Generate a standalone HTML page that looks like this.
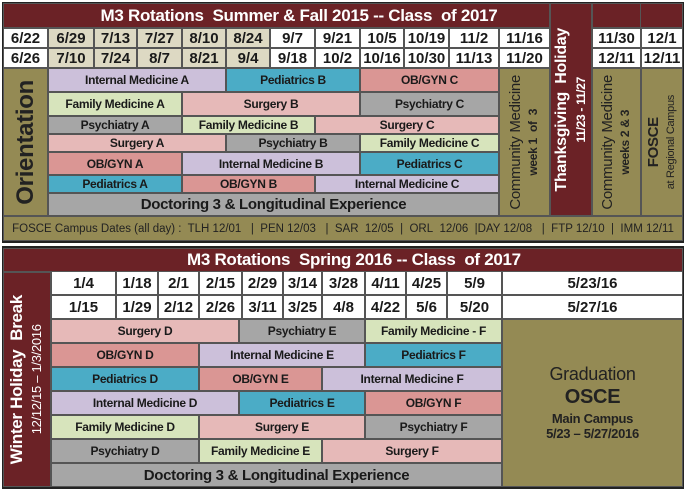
<!DOCTYPE html>
<html><head><meta charset="utf-8"><style>
body{margin:0;width:685px;height:490px;background:#fff;position:relative;overflow:hidden;font-family:"Liberation Sans",sans-serif;font-weight:bold;color:#1a1a1a}
.b{position:absolute;box-sizing:border-box;border:1px solid #555;display:flex;align-items:center;justify-content:center;text-align:center;white-space:nowrap;font-size:12px;letter-spacing:-0.3px}
.box{position:absolute;box-sizing:border-box;border:2px solid #222}
.M{background:#6b2226;color:#fff}.O{background:#948a54}.L{background:#ccc0da}.T{background:#4bacc6}.P{background:#e6b9b8}.G{background:#d7e4bc}.Y{background:#a6a6a6}.R{background:#da9694}.W{background:#fff}.K{background:#ddd9c3}
.d{font-size:15px;letter-spacing:0}
.v{writing-mode:vertical-rl;transform:rotate(180deg)}
</style></head><body>
<div class="box" style="left:2px;top:2px;width:682px;height:241px"></div>
<div class="box" style="left:2px;top:246px;width:682px;height:243px"></div>

<!-- TOP -->
<div class="b M" style="left:3px;top:3px;width:547px;height:25px;font-size:17px;padding-left:45px">M3 Rotations&nbsp; Summer &amp; Fall 2015 -- Class&nbsp; of 2017</div>
<div class="b M" style="left:592px;top:3px;width:91px;height:25px"></div>
<div class="b M" style="left:592px;top:3px;width:49px;height:25px"></div>

<div class="b W d" style="left:3px;top:28px;width:45px;height:20px">6/22</div>
<div class="b W d" style="left:3px;top:48px;width:45px;height:20px">6/26</div>
<div class="b K d" style="left:48px;top:28px;width:46px;height:20px">6/29</div>
<div class="b K d" style="left:48px;top:48px;width:46px;height:20px">7/10</div>
<div class="b K d" style="left:94px;top:28px;width:43px;height:20px">7/13</div>
<div class="b K d" style="left:94px;top:48px;width:43px;height:20px">7/24</div>
<div class="b K d" style="left:137px;top:28px;width:45px;height:20px">7/27</div>
<div class="b K d" style="left:137px;top:48px;width:45px;height:20px">8/7</div>
<div class="b K d" style="left:182px;top:28px;width:44px;height:20px">8/10</div>
<div class="b K d" style="left:182px;top:48px;width:44px;height:20px">8/21</div>
<div class="b K d" style="left:226px;top:28px;width:44px;height:20px">8/24</div>
<div class="b K d" style="left:226px;top:48px;width:44px;height:20px">9/4</div>
<div class="b W d" style="left:270px;top:28px;width:45px;height:20px">9/7</div>
<div class="b W d" style="left:270px;top:48px;width:45px;height:20px">9/18</div>
<div class="b W d" style="left:315px;top:28px;width:45px;height:20px">9/21</div>
<div class="b W d" style="left:315px;top:48px;width:45px;height:20px">10/2</div>
<div class="b W d" style="left:360px;top:28px;width:44px;height:20px">10/5</div>
<div class="b W d" style="left:360px;top:48px;width:44px;height:20px">10/16</div>
<div class="b W d" style="left:404px;top:28px;width:45px;height:20px">10/19</div>
<div class="b W d" style="left:404px;top:48px;width:45px;height:20px">10/30</div>
<div class="b W d" style="left:449px;top:28px;width:50px;height:20px">11/2</div>
<div class="b W d" style="left:449px;top:48px;width:50px;height:20px">11/13</div>
<div class="b W d" style="left:499px;top:28px;width:51px;height:20px">11/16</div>
<div class="b W d" style="left:499px;top:48px;width:51px;height:20px">11/20</div>
<div class="b W d" style="left:592px;top:28px;width:49px;height:20px">11/30</div>
<div class="b W d" style="left:592px;top:48px;width:49px;height:20px">12/11</div>
<div class="b W d" style="left:641px;top:28px;width:42px;height:20px">12/1</div>
<div class="b W d" style="left:641px;top:48px;width:42px;height:20px">12/11</div>

<div class="b O" style="left:3px;top:68px;width:45px;height:148px"><span class="v" style="font-size:24px;color:#222">Orientation</span></div>

<div class="b L" style="left:48px;top:68px;width:178px;height:24px">Internal Medicine A</div>
<div class="b T" style="left:226px;top:68px;width:134px;height:24px">Pediatrics B</div>
<div class="b R" style="left:360px;top:68px;width:139px;height:24px">OB/GYN C</div>

<div class="b G" style="left:48px;top:92px;width:134px;height:24px">Family Medicine A</div>
<div class="b P" style="left:182px;top:92px;width:178px;height:24px">Surgery B</div>
<div class="b Y" style="left:360px;top:92px;width:139px;height:24px">Psychiatry C</div>

<div class="b Y" style="left:48px;top:116px;width:134px;height:18px">Psychiatry A</div>
<div class="b G" style="left:182px;top:116px;width:133px;height:18px">Family Medicine B</div>
<div class="b P" style="left:315px;top:116px;width:184px;height:18px">Surgery C</div>

<div class="b P" style="left:48px;top:134px;width:178px;height:18px">Surgery A</div>
<div class="b Y" style="left:226px;top:134px;width:134px;height:18px">Psychiatry B</div>
<div class="b G" style="left:360px;top:134px;width:139px;height:18px">Family Medicine C</div>

<div class="b R" style="left:48px;top:152px;width:134px;height:23px">OB/GYN A</div>
<div class="b L" style="left:182px;top:152px;width:178px;height:23px">Internal Medicine B</div>
<div class="b T" style="left:360px;top:152px;width:139px;height:23px">Pediatrics C</div>

<div class="b T" style="left:48px;top:175px;width:134px;height:18px">Pediatrics A</div>
<div class="b R" style="left:182px;top:175px;width:133px;height:18px">OB/GYN B</div>
<div class="b L" style="left:315px;top:175px;width:184px;height:18px">Internal Medicine C</div>

<div class="b Y" style="left:48px;top:193px;width:451px;height:23px;font-size:15px">Doctoring 3 &amp; Longitudinal Experience</div>

<div class="b O" style="left:499px;top:68px;width:51px;height:148px;line-height:17px"><span class="v" style="font-size:15px;font-weight:normal;color:#222">Community Medicine<br><span style="font-size:12px;font-weight:bold">week 1&nbsp; of&nbsp; 3</span></span></div>
<div class="b M" style="left:550px;top:3px;width:42px;height:213px;line-height:19px"><span class="v" style="font-size:16px">Thanksgiving&nbsp; Holiday<br><span style="font-size:12px">11/23 - 11/27</span></span></div>
<div class="b O" style="left:592px;top:68px;width:49px;height:148px;line-height:17px"><span class="v" style="font-size:15px;font-weight:normal;color:#222">Community Medicine<br><span style="font-size:12px;font-weight:bold">weeks 2 &amp; 3</span></span></div>
<div class="b O" style="left:641px;top:68px;width:42px;height:148px;line-height:17px"><span class="v" style="font-size:15px;color:#222">FOSCE<br><span style="font-size:11px;font-weight:normal">at Regional Campus</span></span></div>

<div class="b O" style="left:3px;top:216px;width:680px;height:25px;font-size:11.5px;font-weight:normal;color:#222;letter-spacing:0">FOSCE Campus Dates (all day) :&nbsp; TLH 12/01&nbsp; &nbsp;|&nbsp; PEN 12/03&nbsp; &nbsp;|&nbsp; SAR&nbsp; 12/05&nbsp; |&nbsp; ORL&nbsp; 12/06&nbsp; |DAY 12/08&nbsp; &nbsp;|&nbsp; FTP 12/10&nbsp; |&nbsp; IMM 12/11</div>

<!-- BOTTOM -->
<div class="b M" style="left:3px;top:248px;width:680px;height:24px;font-size:17px;justify-content:flex-start;padding-left:183px">M3 Rotations&nbsp; Spring 2016 -- Class&nbsp; of 2017</div>
<div class="b M" style="left:3px;top:272px;width:48px;height:215px;line-height:20px"><span class="v" style="font-size:17px">Winter Holiday&nbsp; Break<br><span style="font-size:13px;font-weight:normal">12/12/15 – 1/3/2016</span></span></div>

<div class="b W d" style="left:51px;top:271px;width:65px;height:24px">1/4</div>
<div class="b W d" style="left:51px;top:295px;width:65px;height:24px">1/15</div>
<div class="b W d" style="left:116px;top:271px;width:42px;height:24px">1/18</div>
<div class="b W d" style="left:116px;top:295px;width:42px;height:24px">1/29</div>
<div class="b W d" style="left:158px;top:271px;width:41px;height:24px">2/1</div>
<div class="b W d" style="left:158px;top:295px;width:41px;height:24px">2/12</div>
<div class="b W d" style="left:199px;top:271px;width:43px;height:24px">2/15</div>
<div class="b W d" style="left:199px;top:295px;width:43px;height:24px">2/26</div>
<div class="b W d" style="left:242px;top:271px;width:41px;height:24px">2/29</div>
<div class="b W d" style="left:242px;top:295px;width:41px;height:24px">3/11</div>
<div class="b W d" style="left:283px;top:271px;width:39px;height:24px">3/14</div>
<div class="b W d" style="left:283px;top:295px;width:39px;height:24px">3/25</div>
<div class="b W d" style="left:322px;top:271px;width:43px;height:24px">3/28</div>
<div class="b W d" style="left:322px;top:295px;width:43px;height:24px">4/8</div>
<div class="b W d" style="left:365px;top:271px;width:41px;height:24px">4/11</div>
<div class="b W d" style="left:365px;top:295px;width:41px;height:24px">4/22</div>
<div class="b W d" style="left:406px;top:271px;width:41px;height:24px">4/25</div>
<div class="b W d" style="left:406px;top:295px;width:41px;height:24px">5/6</div>
<div class="b W d" style="left:447px;top:271px;width:55px;height:24px">5/9</div>
<div class="b W d" style="left:447px;top:295px;width:55px;height:24px">5/20</div>
<div class="b W d" style="left:502px;top:271px;width:181px;height:24px">5/23/16</div>
<div class="b W d" style="left:502px;top:295px;width:181px;height:24px">5/27/16</div>

<div class="b P" style="left:51px;top:319px;width:188px;height:24px">Surgery D</div>
<div class="b Y" style="left:239px;top:319px;width:126px;height:24px">Psychiatry E</div>
<div class="b G" style="left:365px;top:319px;width:137px;height:24px">Family Medicine - F</div>

<div class="b R" style="left:51px;top:343px;width:148px;height:24px">OB/GYN D</div>
<div class="b L" style="left:199px;top:343px;width:166px;height:24px">Internal Medicine E</div>
<div class="b T" style="left:365px;top:343px;width:137px;height:24px">Pediatrics F</div>

<div class="b T" style="left:51px;top:367px;width:148px;height:24px">Pediatrics D</div>
<div class="b R" style="left:199px;top:367px;width:123px;height:24px">OB/GYN E</div>
<div class="b L" style="left:322px;top:367px;width:180px;height:24px">Internal Medicine F</div>

<div class="b L" style="left:51px;top:391px;width:188px;height:24px">Internal Medicine D</div>
<div class="b T" style="left:239px;top:391px;width:126px;height:24px">Pediatrics E</div>
<div class="b R" style="left:365px;top:391px;width:137px;height:24px">OB/GYN F</div>

<div class="b G" style="left:51px;top:415px;width:148px;height:24px">Family Medicine D</div>
<div class="b P" style="left:199px;top:415px;width:166px;height:24px">Surgery E</div>
<div class="b Y" style="left:365px;top:415px;width:137px;height:24px">Psychiatry F</div>

<div class="b Y" style="left:51px;top:439px;width:148px;height:24px">Psychiatry D</div>
<div class="b G" style="left:199px;top:439px;width:123px;height:24px">Family Medicine E</div>
<div class="b P" style="left:322px;top:439px;width:180px;height:24px">Surgery F</div>

<div class="b Y" style="left:51px;top:463px;width:451px;height:24px;font-size:15px">Doctoring 3 &amp; Longitudinal Experience</div>

<div class="b O" style="left:502px;top:319px;width:181px;height:168px;flex-direction:column;color:#222;line-height:1.15">
<div style="font-size:18px;font-weight:normal">Graduation</div>
<div style="font-size:20px;margin-top:2px">OSCE</div>
<div style="font-size:13px;margin-top:3px">Main Campus</div>
<div style="font-size:13px">5/23 – 5/27/2016</div>
</div>
</body></html>
